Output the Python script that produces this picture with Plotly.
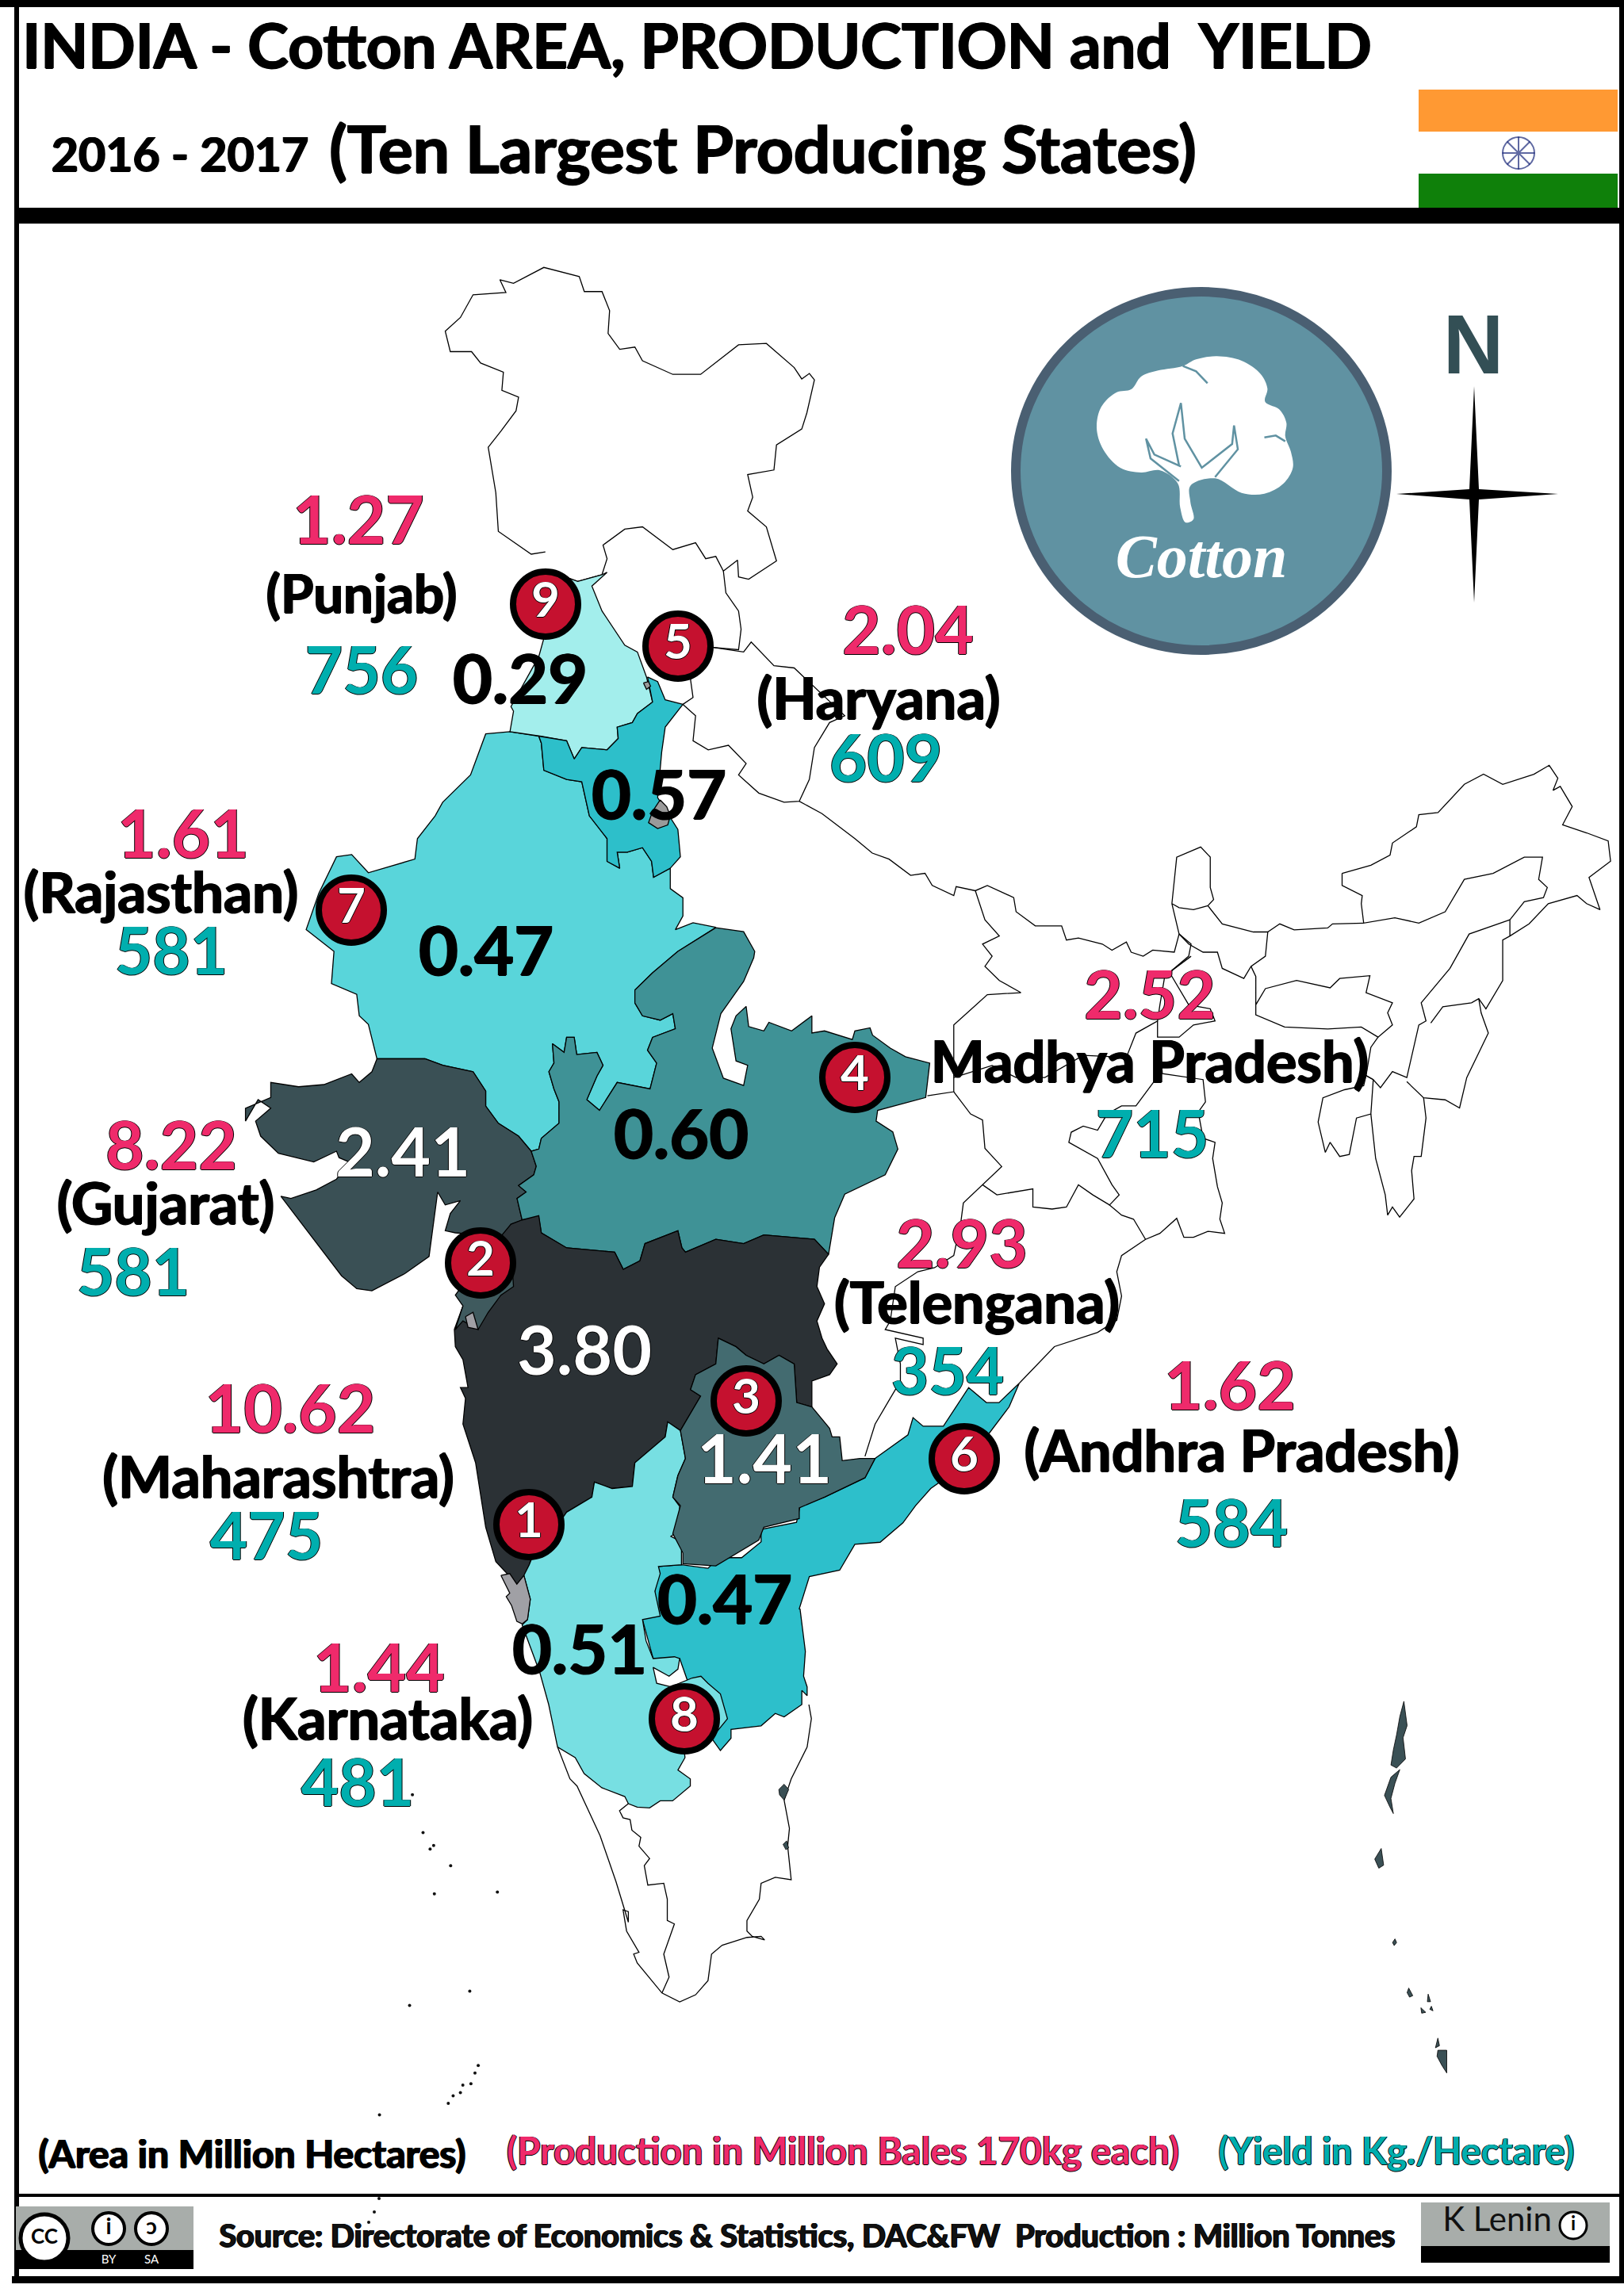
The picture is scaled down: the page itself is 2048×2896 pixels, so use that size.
import plotly.graph_objects as go

# ---- table values, ten largest producing states 2016-17
states = ['Maharashtra', 'Gujarat', 'Telengana', 'Madhya Pradesh', 'Haryana',
          'Andhra Pradesh', 'Rajasthan', 'Karnataka', 'Punjab']
state_labels = ['(Maharashtra)', '(Gujarat)', '(Telengana)', 'Madhya Pradesh)', '(Haryana)',
                '(Andhra Pradesh)', '(Rajasthan)', '(Karnataka)', '(Punjab)']
area = ['3.80', '2.41', '1.41', '0.60', '0.57', '0.47', '0.47', '0.51', '0.29']
production = ['10.62', '8.22', '2.93', '2.52', '2.04', '1.62', '1.61', '1.44', '1.27']
yields = ['475', '581', '354', '715', '609', '584', '581', '481', '756']
ranks = ['1', '2', '3', '4', '5', '6', '7', '8', '9']
area_colors = ['white', 'white', 'white', 'black', 'black', 'black', 'black', 'black', 'black']

# ---- where the labels sit, page pixels
prod_x = [366, 216, 1213, 1450, 1145, 1551, 231, 478, 452]
prod_y = [1786, 1454, 1578, 1264, 804, 1757, 1061, 2113, 665]
name_x = [351, 209, 1232, 1450, 1108, 1566, 203, 489, 456]
name_y = [1871, 1526, 1651, 1347, 889, 1838, 1133, 2176, 756]
name_size = [72, 72, 72, 72, 72, 72, 71, 72, 67]
yield_x = [336, 168, 1195, 1453, 1117, 1553, 216, 451, 456]
yield_y = [1946, 1613, 1738, 1439, 965, 1930, 1208, 2257, 854]
area_x = [737, 508, 964, 859, 831, 914, 613, 731, 656]
area_y = [1712, 1462, 1849, 1439, 1011, 2026, 1208, 2089, 865]
rank_x = [667, 606, 941, 1078, 855, 1216, 443, 863, 688]
rank_y = [1923, 1593, 1767, 1359, 815, 1840, 1148, 2168, 762]


# reference crops were read at these scales, outlines are kept in crop coordinates
def z2(pts):
    return [(300 + x / 1.568, 300 + y / 1.742) for x, y in pts]


def z3(pts):
    return [(300 + x / 1.568, 1200 + y / 1.845) for x, y in pts]


def z4(pts):
    return [(500 + x / 2.24, 1900 + y / 2.24) for x, y in pts]


def z5(pts):
    return [(1100 + x / 1.654, 900 + y / 1.96) for x, y in pts]


def z7(pts):
    return [(1250 + x / 2.09, 340 + y / 3) for x, y in pts]


def z8(pts):
    return [(300 + x / 0.98, 2100 + y / 2.613) for x, y in pts]


# ---- filled states
punjab = z2([(610, 730), (672, 755), (720, 740), (730, 735), (700, 765), (720, 820), (765, 895), (790, 910),
             (808, 965), (820, 1020), (790, 1045), (780, 1065), (750, 1075), (752, 1100), (730, 1125), (680, 1120),
             (665, 1145), (650, 1105), (600, 1095), (538, 1085), (545, 1040), (540, 1030), (595, 920), (605, 880)])
haryana = z2([(810, 965), (830, 975), (845, 1015), (880, 1025), (845, 1075), (838, 1130), (830, 1230), (870, 1300),
              (875, 1360), (855, 1385), (822, 1405), (818, 1370), (800, 1340), (770, 1350), (750, 1350), (755, 1385),
              (730, 1370), (730, 1320), (695, 1270), (680, 1195), (650, 1190), (605, 1170), (600, 1110), (595, 1095),
              (650, 1105), (665, 1145), (680, 1120), (730, 1125), (752, 1100), (750, 1075), (780, 1065), (790, 1045),
              (820, 1020)])
rajasthan = z2([(538, 1085), (595, 1095), (600, 1110), (605, 1170), (650, 1190), (680, 1195), (695, 1270), (730, 1320),
                (730, 1370), (755, 1385), (750, 1350), (770, 1350), (800, 1340), (818, 1370), (822, 1405), (855, 1385),
                (855, 1430), (880, 1450), (880, 1490), (865, 1520), (900, 1505), (945, 1515)]) + \
    z3([(870, 0), (820, 50), (785, 90), (785, 120), (800, 150), (835, 160), (860, 145), (865, 180), (820, 200),
        (810, 230), (828, 260), (815, 320), (750, 305), (715, 370), (690, 345), (710, 290), (722, 265), (710, 235),
        (670, 240), (665, 200), (650, 200), (645, 235), (622, 215), (625, 260), (615, 280), (625, 320), (635, 350),
        (635, 400), (600, 435), (595, 460), (580, 465), (555, 430), (515, 400), (490, 360), (490, 325), (465, 280),
        (405, 265), (370, 250), (320, 250), (275, 250), (258, 170), (240, 150), (235, 100), (185, 75), (190, 0)]) + \
    z2([(135, 1520), (160, 1440), (195, 1360), (225, 1355), (258, 1395), (350, 1365), (355, 1320), (390, 1270),
        (405, 1240), (460, 1180), (490, 1090)])
madhya = z3([(870, 0), (945, -55), (1000, -46), (1022, 0), (1020, 15), (1000, 70), (955, 145), (938, 225), (960, 295),
             (1000, 312), (1008, 265), (985, 255), (975, 180), (985, 150), (1005, 128), (1010, 175), (1040, 185),
             (1050, 165), (1095, 185), (1135, 150), (1135, 190), (1160, 185), (1215, 205), (1220, 185), (1250, 178),
             (1255, 195), (1290, 225), (1320, 245), (1368, 260), (1360, 340), (1265, 370), (1262, 395), (1295, 420),
             (1305, 460), (1280, 520), (1200, 565), (1180, 620), (1168, 705), (1140, 670), (1040, 660), (1000, 680),
             (945, 670), (885, 700), (878, 690), (870, 650), (805, 680), (795, 720), (762, 740), (745, 700), (650, 690),
             (600, 655), (595, 620), (562, 625), (552, 575), (570, 560), (555, 545), (585, 520), (590, 500), (580, 465),
             (595, 460), (600, 435), (635, 400), (635, 350), (625, 320), (615, 280), (625, 260), (622, 215), (645, 235),
             (650, 200), (665, 200), (670, 240), (710, 235), (722, 265), (710, 290), (690, 345), (715, 370), (750, 305),
             (815, 320), (828, 260), (810, 230), (820, 200), (865, 180), (860, 145), (835, 160), (800, 150), (785, 120),
             (785, 90), (820, 50)])
gujarat = z3([(275, 250), (320, 250), (370, 250), (405, 265), (465, 280), (490, 325), (490, 360), (515, 400), (555, 430),
              (580, 465), (590, 500), (585, 520), (555, 545), (570, 560), (552, 575), (562, 625), (540, 635), (535, 665),
              (430, 655), (410, 650), (420, 610), (440, 580), (410, 590), (395, 560), (385, 650), (378, 710), (330, 750),
              (265, 790), (235, 785), (205, 755), (85, 570), (105, 575), (155, 555), (195, 530), (220, 490), (200, 480),
              (195, 465), (150, 490), (80, 470), (45, 430), (35, 395), (65, 365), (40, 345), (15, 395), (15, 365),
              (65, 340), (65, 305), (120, 315), (170, 310), (225, 285), (240, 305), (265, 280)])
gujarat_south = z3([(480, 720), (540, 690), (545, 780), (520, 800), (495, 840), (475, 880), (445, 860), (430, 880),
                    (445, 825), (430, 800)])
maharashtra = z3([(562, 625), (595, 615), (600, 655), (650, 690), (745, 700), (762, 740), (795, 720), (805, 680),
                  (870, 650), (878, 690), (885, 700), (945, 670), (1000, 680), (1040, 660), (1140, 670), (1168, 705),
                  (1150, 735), (1145, 780), (1160, 820), (1145, 860), (1155, 900), (1165, 925), (1185, 960), (1170, 985),
                  (1135, 1000), (1135, 1060), (1105, 1050), (1100, 960), (1070, 940), (1040, 960), (1005, 940),
                  (985, 920), (950, 900), (945, 960), (905, 985), (895, 1020), (915, 1035), (875, 1115), (850, 1095),
                  (845, 1130), (785, 1190), (780, 1245), (740, 1250), (705, 1235), (700, 1270), (650, 1305), (610, 1395),
                  (580, 1410), (570, 1460), (550, 1475), (530, 1445), (510, 1420), (490, 1340), (470, 1190), (445, 1100),
                  (450, 1040), (440, 1015), (455, 1015), (445, 950), (430, 920), (428, 880), (445, 825), (480, 720),
                  (540, 635)])
karnataka = z3([(875, 1115), (850, 1095), (845, 1130), (785, 1190), (780, 1245), (740, 1250), (705, 1235), (700, 1270),
                (650, 1305)]) + \
    z4([(450, 60), (385, 140), (375, 165), (360, 195), (378, 262), (370, 320), (355, 335), (405, 470), (430, 560),
        (455, 680), (505, 710), (530, 755), (580, 795), (645, 820), (655, 840), (680, 850), (715, 852), (745, 832),
        (780, 832), (830, 790), (830, 770), (795, 745), (815, 710), (813, 690), (890, 655), (935, 600), (915, 530),
        (880, 500), (860, 480), (835, 485), (775, 510), (735, 500), (725, 455), (770, 480), (795, 460), (800, 430),
        (785, 425), (725, 430), (705, 380), (695, 320), (745, 310), (730, 240), (745, 190), (740, 170), (805, 165),
        (805, 100), (775, 85), (795, 70), (800, 0)]) + \
    z3([(860, 1270), (870, 1220), (885, 1180)])
telangana = z3([(950, 900), (985, 920), (1005, 940), (1040, 960), (1070, 940), (1100, 960), (1105, 1050), (1135, 1060),
                (1170, 1110), (1175, 1130), (1190, 1130), (1195, 1185), (1230, 1180), (1260, 1180), (1240, 1225),
                (1160, 1270), (1110, 1295), (1110, 1320), (1040, 1340), (1030, 1370), (945, 1430), (880, 1425),
                (880, 1400), (860, 1355), (875, 1290), (860, 1270), (870, 1220), (885, 1180), (875, 1115), (915, 1035),
                (895, 1020), (905, 985), (945, 960)])
andhra = z3([(1260, 1180), (1325, 1125), (1335, 1085), (1355, 1105), (1395, 1105), (1420, 1060), (1445, 1015),
             (1480, 1050), (1505, 1050), (1545, 1005), (1525, 1060), (1480, 1130), (1430, 1200), (1370, 1250),
             (1340, 1290), (1315, 1330), (1270, 1375), (1220, 1380), (1190, 1440), (1130, 1455), (1110, 1530)]) + \
    z4([(1140, 290), (1155, 410), (1150, 480), (1160, 510), (1160, 535), (1145, 520), (1145, 560), (1095, 595),
        (1070, 585), (1030, 620), (945, 630), (945, 655), (915, 690), (890, 655), (860, 600), (800, 430), (725, 430),
        (695, 320), (730, 240), (740, 170), (805, 165), (880, 175), (910, 145), (975, 145), (1030, 100), (1030, 65),
        (1130, 45), (1140, 0)]) + \
    z3([(1160, 1270), (1240, 1225)])
goa = z4([(295, 195), (320, 190), (340, 220), (360, 195), (378, 262), (370, 320), (355, 332), (340, 325), (325, 280),
          (310, 255), (320, 245)])
delhi = z2([(835, 1235), (848, 1250), (855, 1270), (850, 1290), (830, 1298), (812, 1285), (820, 1260)])
chandigarh = z2([(802, 978), (812, 975), (816, 985), (808, 992)])
daman = z3([(450, 850), (465, 840), (475, 880), (455, 875)])
puducherry = [z4([(1080, 800), (1095, 785), (1108, 800), (1095, 830), (1082, 815)]),
              z4([(1092, 955), (1102, 945), (1108, 965), (1100, 970)])]

# ---- white states, thin outlines only
jammu_kashmir = z2([(608, 690), (580, 695), (515, 645), (510, 560), (495, 460), (520, 425), (550, 380), (555, 350),
                    (522, 335), (525, 295), (480, 275), (462, 250), (420, 250), (410, 205), (440, 175), (465, 125),
                    (530, 120), (518, 92), (545, 100), (605, 65), (675, 85), (685, 118), (720, 118), (735, 160),
                    (732, 210), (755, 245), (785, 240), (800, 270), (860, 300), (915, 300), (990, 235), (1045, 232),
                    (1100, 285), (1115, 310), (1130, 298), (1140, 312), (1125, 385), (1115, 420), (1065, 455),
                    (1060, 510), (1008, 520), (1018, 570), (1008, 600), (1045, 635), (1065, 710), (1010, 750),
                    (990, 745), (988, 708), (960, 732), (945, 700), (925, 705), (905, 670), (860, 685), (800, 635),
                    (765, 640), (722, 675), (730, 705), (720, 740), (672, 755), (610, 730)])
himachal_east = z2([(960, 732), (965, 780), (990, 820), (995, 860), (990, 905), (940, 900)])
himachal_south = z2([(895, 970), (900, 1010), (880, 1025)])
uttarakhand = z2([(940, 900), (1000, 910), (1015, 888), (1060, 940), (1100, 945), (1200, 1050), (1170, 1065),
                  (1140, 1120), (1130, 1190), (1110, 1238), (1080, 1240), (1030, 1220), (990, 1180), (1005, 1155),
                  (970, 1115), (930, 1125), (900, 1105), (905, 1050), (880, 1025)])
nepal_border = z2([(1110, 1238), (1155, 1265), (1220, 1320)]) + \
    z5([(0, 345), (35, 360), (80, 400), (110, 395), (125, 425), (170, 450), (175, 428), (215, 438), (240, 425),
        (295, 455), (300, 490), (340, 525), (395, 525), (405, 560), (430, 555), (480, 570), (500, 585), (530, 565),
        (540, 590), (565, 600), (585, 585), (630, 590), (640, 545)])
up_bihar = z5([(215, 438), (235, 510), (265, 550), (230, 570), (250, 600), (235, 625), (265, 660), (310, 690),
               (240, 695), (170, 770), (170, 820), (170, 935), (115, 945)])
bihar_south = z5([(170, 900), (250, 870), (300, 900), (360, 900), (440, 845), (530, 850), (550, 790), (595, 760),
                  (600, 720), (610, 650), (660, 600), (665, 570), (640, 545)])
chhattisgarh = z5([(170, 935), (205, 990), (230, 1005), (235, 1075), (270, 1120), (230, 1165), (190, 1210), (185, 1255),
                   (170, 1340), (130, 1370), (95, 1380)]) + \
    z3([(1300, 780), (1290, 860), (1280, 880), (1355, 900), (1355, 915), (1300, 900), (1310, 960), (1310, 1000),
        (1290, 1040), (1260, 1100), (1240, 1175)])
jharkhand_south = z5([(230, 1165), (260, 1190), (335, 1175), (335, 1220), (375, 1225), (405, 1220), (430, 1165),
                      (460, 1190), (495, 1215)])
bengal = z5([(640, 545), (660, 570), (690, 590), (720, 590), (730, 630), (775, 655), (790, 625), (820, 600), (825, 540),
             (795, 540), (730, 520), (700, 475)])
sikkim = z5([(625, 470), (635, 355), (685, 330), (705, 355), (705, 430), (712, 460), (700, 475), (670, 485), (640, 480),
             (625, 470), (640, 545)])
bengal_south = z5([(595, 760), (595, 800), (640, 800), (670, 770), (715, 760), (705, 730), (660, 720), (620, 640),
                   (665, 600)])
bengal_coast = z5([(600, 810), (605, 890), (690, 905), (695, 960), (680, 985), (690, 1050), (715, 1060), (710, 1100),
                   (720, 1170), (730, 1210), (725, 1250), (735, 1285), (700, 1280), (670, 1295), (650, 1295),
                   (635, 1248), (600, 1285), (570, 1300), (545, 1250), (520, 1240), (495, 1215), (515, 1190),
                   (500, 1165), (470, 1100), (410, 1060), (415, 1035), (440, 1020), (470, 1030), (490, 990), (520, 970),
                   (550, 970), (575, 930), (600, 890)])
odisha_coast = z5([(570, 1300), (520, 1340), (510, 1380), (520, 1440), (510, 1500), (470, 1530), (380, 1565)]) + \
    z3([(1545, 1005)])
arunachal = z5([(980, 395), (1040, 375), (1080, 350), (1085, 320), (1135, 280), (1140, 250), (1180, 245), (1215, 200),
                (1235, 175), (1275, 150), (1315, 175), (1380, 150), (1412, 128), (1430, 160), (1420, 190), (1435, 180),
                (1460, 230), (1440, 275), (1490, 295), (1535, 315), (1540, 365), (1495, 405), (1518, 485), (1490, 470),
                (1470, 450), (1410, 470), (1370, 520), (1330, 550), (1330, 510), (1360, 465), (1400, 455), (1408, 430),
                (1390, 410), (1398, 355), (1360, 355), (1295, 395), (1235, 410), (1195, 490), (1140, 518), (1090, 505),
                (1025, 518), (1020, 470), (1022, 450), (980, 425), (980, 395)])
assam_north = z5([(825, 540), (850, 520), (880, 535), (950, 530), (960, 520), (1025, 518)])
assam_south = z5([(1330, 510), (1245, 545), (1205, 630), (1145, 715), (1155, 760), (1140, 770), (1115, 900), (1085, 885),
                  (1060, 925), (1045, 905), (1030, 895), (1040, 825), (1055, 800)])
meghalaya = z5([(800, 720), (820, 680), (885, 660), (955, 678), (975, 655), (1038, 648), (1030, 690), (1085, 715),
                (1075, 740), (1085, 770), (1055, 800), (1020, 775), (950, 780), (860, 775), (800, 745), (800, 720),
                (800, 650), (790, 625)])
nagaland = z5([(1330, 550), (1315, 560), (1315, 660), (1280, 730), (1265, 705), (1250, 715), (1190, 725), (1165, 765)])
manipur = z5([(1265, 705), (1270, 740), (1285, 790), (1240, 900), (1225, 975), (1195, 955), (1150, 950), (1115, 910)])
tripura = z5([(1045, 905), (1030, 895), (1025, 920), (985, 930), (940, 950), (930, 1010), (945, 1085), (955, 1060),
              (975, 1095), (995, 1090), (1010, 1000), (1040, 990), (1045, 905)])
mizoram = z5([(1150, 950), (1155, 1000), (1145, 1095), (1130, 1095), (1125, 1130), (1130, 1200), (1100, 1245),
              (1085, 1220), (1075, 1240), (1070, 1190), (1050, 1100), (1040, 990)])
south_tip = z4([(1165, 560), (1172, 600), (1160, 680), (1115, 770), (1095, 830), (1110, 910), (1105, 960), (1115, 1055),
                (1070, 1048), (1030, 1065), (1025, 1110), (990, 1170), (990, 1200), (1005, 1215), (1040, 1225),
                (1030, 1215), (990, 1218), (920, 1240), (890, 1265), (880, 1340), (845, 1380), (800, 1400), (750, 1375),
                (680, 1290), (670, 1265), (685, 1260), (650, 1200), (640, 1140), (655, 1145), (655, 1175), (620, 1060),
                (575, 930), (510, 790), (490, 770), (455, 680)])
kerala_border = z4([(655, 840), (630, 860), (640, 880), (660, 885), (665, 915), (690, 935), (685, 960), (715, 995),
                    (700, 1015), (710, 1070), (755, 1065), (765, 1110), (765, 1170), (785, 1180), (755, 1265), (770, 1330),
                    (750, 1375)])

# ---- island groups
andaman = [z8([(1441, 120), (1445, 200), (1440, 240), (1443, 310), (1432, 340), (1425, 330), (1428, 280), (1432, 230), (1436, 170)]),
           z8([(1436, 345), (1430, 390), (1425, 440), (1428, 490), (1424, 470), (1417, 430), (1425, 370)]),
           z8([(1413, 605), (1416, 660), (1410, 670), (1405, 640)]),
           z8([(1430, 903), (1432, 915), (1429, 925), (1427, 915)]),
           z8([(1447, 1065), (1452, 1090), (1448, 1095), (1445, 1080)]),
           z8([(1471, 1085), (1474, 1110), (1470, 1110)]),
           z8([(1462, 1130), (1468, 1145), (1463, 1148)]),
           z8([(1475, 1125), (1477, 1140), (1473, 1135)]),
           z8([(1483, 1230), (1485, 1255), (1480, 1262)]),
           z8([(1483, 1270), (1494, 1270), (1494, 1345), (1488, 1320), (1482, 1290)])]
lakshadweep = z4([(45, 815), (75, 922), (105, 958), (95, 968), (153, 1015), (107, 1095), (285, 1090), (207, 1370), (37, 1410)]) + \
    z8([(297, 1320), (293, 1345), (288, 1380), (278, 1385), (275, 1410), (266, 1420), (260, 1445), (175, 1483)]) + \
    [(478, 2773), (472, 2790), (465, 2803)]

# ---- cotton badge and compass
boll = z7([(505, 365), (540, 340), (595, 328), (660, 345), (710, 395), (728, 450), (722, 500), (760, 530), (778, 580),
           (775, 630), (790, 690), (795, 750), (770, 810), (720, 848), (660, 845), (590, 790), (525, 818), (525, 880),
           (533, 945), (512, 957), (498, 900), (492, 810), (445, 760), (395, 768), (340, 750), (295, 680), (278, 600),
           (290, 520), (330, 465), (370, 452), (395, 405), (440, 382)])
boll_veins = [z7([(505, 365), (540, 385), (570, 430)]),
              z7([(495, 740), (478, 620), (500, 505), (510, 640), (555, 750), (635, 660), (640, 590), (650, 680), (590, 785)]),
              z7([(500, 745), (430, 700), (408, 640), (420, 715), (495, 800)]),
              z7([(720, 635), (750, 628), (775, 650)])]
compass = [(1859, 487), (1865, 617), (1965, 623), (1865, 630), (1859, 760), (1853, 630), (1761, 623), (1853, 617)]

PINK = '#EF2A6B'
TEAL = '#00AEAE'
FONT = 'Lato'
HEAVY = '1px 0 0 currentColor, -1px 0 0 currentColor, 0 1px 0 currentColor'

fig = go.Figure()


def closed(pts):
    return [p[0] for p in pts] + [pts[0][0]], [p[1] for p in pts] + [pts[0][1]]


def add_area(pts, color, width=1.3, shape='linear'):
    x, y = closed(pts)
    fig.add_trace(go.Scatter(x=x, y=y, mode='lines', fill='toself', fillcolor=color,
                             line=dict(color='black', width=width, shape=shape), hoverinfo='skip'))


def add_line(pts, width=1.3, color='black'):
    fig.add_trace(go.Scatter(x=[p[0] for p in pts], y=[p[1] for p in pts], mode='lines',
                             line=dict(color=color, width=width), hoverinfo='skip'))


def add_text(x, y, text, size, color, family=FONT, weight=700, shadow=HEAVY):
    fig.add_trace(go.Scatter(x=x, y=y, mode='text', text=text, textposition='middle center',
                             textfont=dict(family=family, size=size, color=color, weight=weight, shadow=shadow),
                             hoverinfo='skip'))


# white outlines first
for outline in [jammu_kashmir, himachal_east, himachal_south, uttarakhand, nepal_border, up_bihar, bihar_south,
                chhattisgarh, jharkhand_south, bengal, sikkim, bengal_south, bengal_coast, odisha_coast, arunachal,
                assam_north, assam_south, meghalaya, nagaland, manipur, tripura, mizoram, south_tip, kerala_border]:
    add_line(outline)

add_area(rajasthan, '#59D5DA')
add_area(punjab, '#A3EEEC')
add_area(haryana, '#2DBFCA')
add_area(gujarat, '#3A5055')
add_area(madhya, '#3F9296')
add_area(maharashtra, '#2B3135')
add_area(gujarat_south, '#3F5A5E')
add_area(andhra, '#2DBFCB')
add_area(karnataka, '#77DFE2')
add_area(telangana, '#436B70')
add_area(goa, '#A0A0A5')
add_area(delhi, '#9A9A9A')
add_area(chandigarh, '#9A9A9A')
add_area(daman, '#A0A0A5')
for part in puducherry + andaman:
    add_area(part, '#3A5055', 0.8)

fig.add_trace(go.Scatter(x=[p[0] for p in lakshadweep], y=[p[1] for p in lakshadweep], mode='markers',
                         marker=dict(color='#111111', size=4), hoverinfo='skip'))

# cotton boll on the badge
add_area(boll, 'white', 0, 'spline')
for vein in boll_veins:
    add_line(vein, 2.5, '#6092A2')
add_text([1515], [708], ['Cotton'], 78, 'white', 'Liberation Serif', 700, 'none')
fig.data[-1].textfont.style = 'italic'

# compass
add_area(compass, 'black', 0)
add_text([1858], [444], ['N'], 106, '#334F55', 'Liberation Sans', 700, 'none')

# flag chakra
fig.add_trace(go.Scatter(x=[1915, 1915], y=[193, 193], mode='markers',
                         marker=dict(symbol=['circle-open', 'asterisk-open'], size=[40, 34],
                                     color='#1B2A7A', line=dict(color='#1B2A7A', width=2)), hoverinfo='skip'))

# state labels
add_text(prod_x, prod_y, production, 84, PINK)
add_text(name_x, name_y, state_labels, name_size, 'black')
add_text(yield_x, yield_y, yields, 82, TEAL)
add_text(area_x, area_y, area, 86, area_colors)

# rank badges
fig.add_trace(go.Scatter(x=rank_x, y=rank_y, mode='markers+text', text=ranks, textposition='middle center',
                         marker=dict(size=82, color='#C5112F', line=dict(color='black', width=8)),
                         textfont=dict(family=FONT, size=62, color='white', weight=700, shadow=HEAVY), hoverinfo='skip'))

# title block
add_text([879], [66], ['INDIA - Cotton AREA, PRODUCTION and  YIELD'], 78, 'black')
add_text([227], [201], ['2016 - 2017'], 59, 'black')
add_text([962], [197], ['(Ten Largest Producing States)'], 82, 'black')

# bottom legend and source
add_text([318], [2722], ['(Area in Million Hectares)'], 48, 'black')
add_text([1063], [2718], ['(Production in Million Bales 170kg each)'], 47.5, PINK)
add_text([1761], [2718], ['(Yield in Kg./Hectare)'], 47, TEAL)
add_text([1018], [2824], ['Source: Directorate of Economics & Statistics, DAC&FW  Production : Million Tonnes'],
         39.5, '#111111')
add_text([1888], [2803], ['K Lenin'], 42, '#111111', FONT, 400, 'none')
add_text([56, 137, 191, 1984], [2823, 2811, 2811, 2807], ['CC', 'i', 'ɔ', 'i'], [26, 28, 28, 24], 'black', FONT, 700, 'none')
add_text([137, 191], [2851, 2851], ['BY', 'SA'], 15, 'white', FONT, 400, 'none')


def rect(x0, y0, x1, y1, color):
    return dict(type='rect', x0=x0, y0=y0, x1=x1, y1=y1, fillcolor=color, line_width=0, layer='below')


def disc(cx, cy, rx, ry, fill, edge='black', width=3):
    return dict(type='circle', x0=cx - rx, y0=cy - ry, x1=cx + rx, y1=cy + ry, fillcolor=fill,
                line=dict(color=edge, width=width), layer='below')


shapes = [
    # page frame
    rect(0, 0, 2048, 9, 'black'), rect(18, 0, 24, 2880, 'black'), rect(2042, 0, 2048, 2880, 'black'),
    rect(18, 262, 2042, 282, 'black'), rect(18, 2767, 2048, 2771, 'black'), rect(15, 2871, 2048, 2880, 'black'),
    # flag
    rect(1789, 113, 2040, 166, '#FF9933'), rect(1789, 219, 2040, 262, '#0F800A'),
    # badge behind the boll
    disc(1515, 594, 234, 226, '#6092A2', '#4A5F72', 12),
    # creative commons block
    rect(20, 2783, 244, 2838, '#A8ADAA'), rect(20, 2838, 244, 2862, 'black'),
    disc(56, 2823, 30, 30, 'white', 'black', 5), disc(137, 2811, 20, 20, 'white', 'black', 4),
    disc(191, 2811, 20, 20, 'white', 'black', 4),
    # author block
    rect(1792, 2778, 2030, 2833, '#A8ADAA'), rect(1792, 2833, 2030, 2854, 'black'),
    disc(1984, 2807, 17, 17, 'white', 'black', 3),
]

fig.update_layout(width=2048, height=2896, margin=dict(l=0, r=0, t=0, b=0), showlegend=False,
                  paper_bgcolor='white', plot_bgcolor='white', shapes=shapes,
                  xaxis=dict(range=[0, 2048], visible=False, fixedrange=True),
                  yaxis=dict(range=[2896, 0], visible=False, fixedrange=True))

fig.write_html("out.html", config={'displayModeBar': False},
               post_script="document.body.style.margin='0';")
